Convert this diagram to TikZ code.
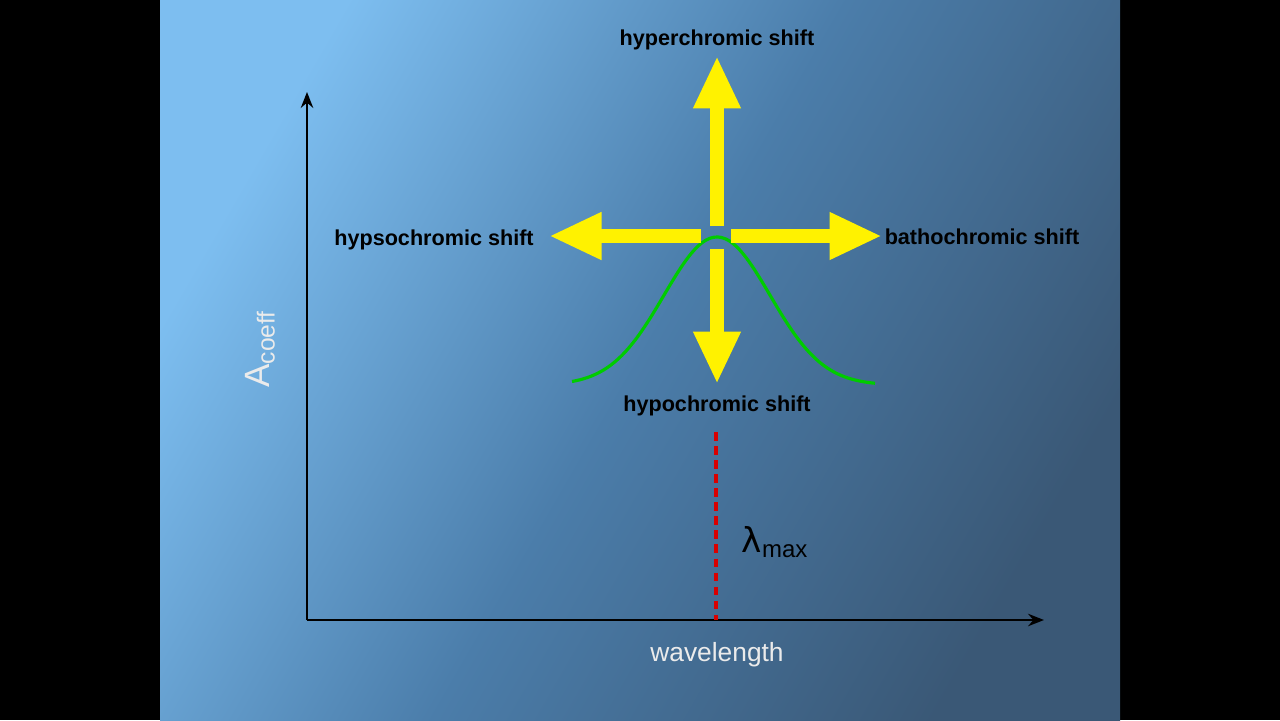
\documentclass[tikz,border=0pt]{standalone}
\usepackage{fontspec}
\setmainfont{Liberation Sans}
\usetikzlibrary{arrows.meta}
\begin{document}
\begin{tikzpicture}[x=0.02cm,y=-0.02cm,
  lbl/.style={font=\fontsize{12.3}{14}\selectfont\bfseries, text=black, inner sep=1pt},
  wlbl/.style={font=\fontsize{15}{17}\selectfont, text=white!92!black, inner sep=1pt},
  yarrow/.style={draw=yellow, line width=0.27cm, -{Triangle[width=0.88cm,length=1.05cm]}},
  axis/.style={draw=black, line width=1.5pt, -{Stealth[length=9pt,width=7pt]}}]
\useasboundingbox (0,0) rectangle (1280,720);
\fill[black] (0,0) rectangle (1280,720);
\shade[left color={rgb,255:red,125;green,190;blue,240}, right color={rgb,255:red,58;green,88;blue,118}, middle color={rgb,255:red,75;green,125;blue,170}, shading=axis, shading angle=60] (160,0) rectangle (1120,720);
\coordinate (o) at (307,620);
\coordinate (yt) at (307,92);
\coordinate (xt) at (1044,620);
\draw[axis] (o) -- (yt);
\draw[axis] (o) -- (xt);
\coordinate (rt) at (716,432);
\coordinate (rb) at (716,620);
\draw[red!85!black, line width=2pt, dash pattern=on 5pt off 3pt] (rt) -- (rb);
\draw[green!80!black, line width=1.8pt, domain=572:875, samples=80, smooth] plot (\x, {385-148*exp(-((\x-717)/75)^2)});
\coordinate (c) at (717,236);
\draw[yarrow] (717,226) -- (717,56);
\draw[yarrow] (731,236) -- (882,236);
\draw[yarrow] (701,236) -- (549,236);
\draw[yarrow] (717,249) -- (717,384);
\node[lbl] (hyper) at (717,40) {hyperchromic shift};
\node[lbl] (hypo) at (717,406) {hypochromic shift};
\node[lbl] (hyps) at (434,240) {hypsochromic shift};
\node[lbl] (batho) at (982,237) {bathochromic shift};
\node[wlbl] (wl) at (717,655) {wavelength};
\node[wlbl, rotate=90, font=\fontsize{20}{22}\selectfont] (ac) at (260,349) {A\textsubscript{coeff}};
\node[font=\fontsize{19.5}{21}\selectfont, text=black, inner sep=1pt] (lm) at (775,542) {\fontspec{DejaVu Sans}λ\textsubscript{\fontspec{Liberation Sans}max}};
\end{tikzpicture}
\end{document}
